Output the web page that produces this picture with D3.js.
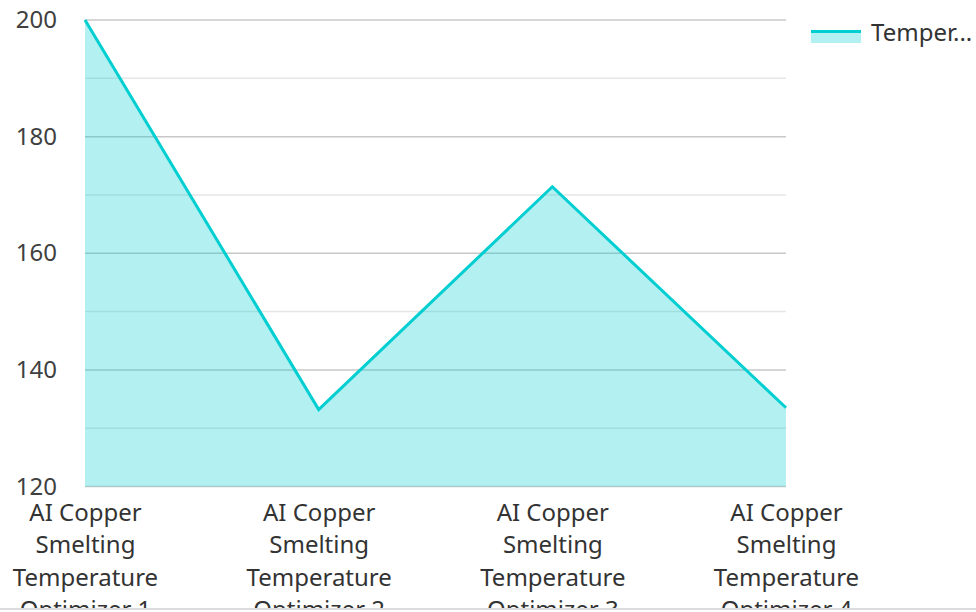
<!DOCTYPE html>
<html>
<head>
<meta charset="utf-8">
<script src="https://cdn.jsdelivr.net/npm/d3@7"></script>
<style>
  html, body { margin: 0; padding: 0; background: #fff; }
  #wrap { width: 976px; height: 608px; overflow: hidden; border-bottom: 2px solid #dcdcdc; }
  svg { display: block; font-family: "Noto Sans", "Open Sans", sans-serif; }
</style>
</head>
<body>
<div id="wrap"><svg id="chart" width="976" height="608"></svg></div>
<script>
// Temperature per optimizer
const categories = [
  "AI Copper Smelting Temperature Optimizer 1",
  "AI Copper Smelting Temperature Optimizer 2",
  "AI Copper Smelting Temperature Optimizer 3",
  "AI Copper Smelting Temperature Optimizer 4"
];
const temperature = [200, 133.2, 171.4, 133.5];
const yTicks = [120, 140, 160, 180, 200];
const yMinorTicks = [130, 150, 170, 190];
const seriesName = "Temperature";

const lineColor = "#00CED1";
const fillColor = "rgba(0,206,209,0.3)";
const fontSize = 24;

const svg = d3.select("#chart");
const plot = { left: 85, right: 786, top: 20, bottom: 486.5 };

const x = d3.scalePoint().domain(categories).range([plot.left, plot.right]);
const y = d3.scaleLinear().domain([120, 200]).range([plot.bottom, plot.top]);

// minor gridlines
svg.append("g").selectAll("line").data(yMinorTicks).join("line")
  .attr("x1", plot.left).attr("x2", plot.right)
  .attr("y1", d => y(d)).attr("y2", d => y(d))
  .attr("stroke", "#e6e6e6").attr("stroke-width", 1.5);

// major gridlines
svg.append("g").selectAll("line").data(yTicks).join("line")
  .attr("x1", plot.left).attr("x2", plot.right)
  .attr("y1", d => y(d)).attr("y2", d => y(d))
  .attr("stroke", "#c8c8c8").attr("stroke-width", 1.5);

// y axis labels
const yAxis = d3.axisLeft(y).tickValues(yTicks).tickSize(0).tickPadding(0).tickFormat(d3.format("d"));
const yg = svg.append("g").attr("transform", `translate(57,0)`).call(yAxis);
yg.select(".domain").remove();
yg.selectAll("text").attr("font-size", fontSize).attr("fill", "#404040")
  .attr("font-family", "'Noto Sans', sans-serif");

const data = categories.map((c, i) => ({ c, v: temperature[i] }));

// area
svg.append("path").datum(data)
  .attr("fill", fillColor)
  .attr("d", d3.area().x(d => x(d.c)).y0(y(120)).y1(d => y(d.v)));

// line
svg.append("path").datum(data)
  .attr("fill", "none").attr("stroke", lineColor).attr("stroke-width", 3)
  .attr("stroke-linejoin", "miter")
  .attr("d", d3.line().x(d => x(d.c)).y(d => y(d.v)));

// x axis labels, wrapped
const xAxis = d3.axisBottom(x).tickSize(0).tickPadding(0);
const xg = svg.append("g").attr("transform", `translate(0,${plot.bottom})`).call(xAxis);
xg.select(".domain").remove();
xg.selectAll("text").each(function(d) {
  const t = d3.select(this);
  t.text(null).attr("font-size", fontSize).attr("fill", "#333")
    .attr("font-family", "'Noto Sans', sans-serif").attr("dy", null).attr("y", 0);
  const words = d.split(" ");
  const lines = [words[0] + " " + words[1], words[2], words[3], words[4] + " " + words[5]];
  lines.forEach((ln, i) => {
    t.append("tspan").attr("x", 0).attr("y", 34 + i * 32.6).text(ln);
  });
});

// legend
const lg = svg.append("g").attr("transform", "translate(811,0)");
lg.append("rect").attr("x", 0).attr("y", 30).attr("width", 50).attr("height", 13).attr("fill", fillColor);
lg.append("line").attr("x1", 0).attr("x2", 50).attr("y1", 31.5).attr("y2", 31.5)
  .attr("stroke", lineColor).attr("stroke-width", 3);
lg.append("text").attr("x", 60).attr("y", 33).attr("dy", "0.35em")
  .attr("font-size", fontSize).attr("fill", "#333")
  .text(seriesName.slice(0, 6) + "...");
</script>
</body>
</html>
